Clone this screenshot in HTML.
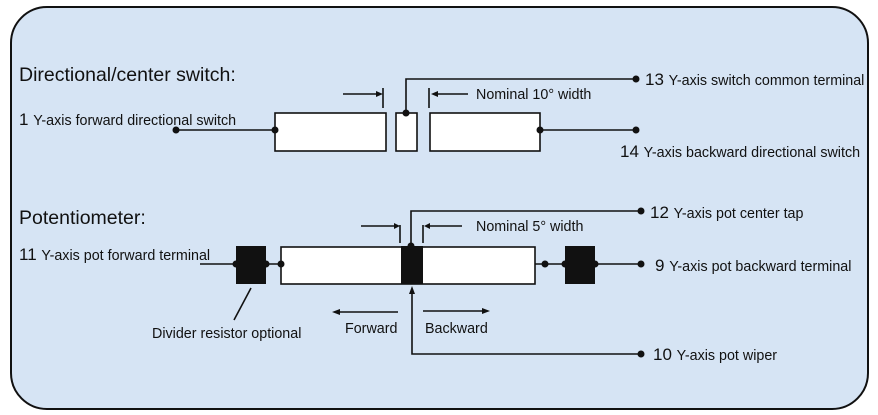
<!DOCTYPE html>
<html><head><style>body{margin:0;background:#fff}svg{display:block}</style></head><body>
<svg width="878" height="415" viewBox="0 0 878 415" xmlns="http://www.w3.org/2000/svg" font-family="Liberation Sans, DejaVu Sans, sans-serif" fill="#111">
<rect x="11" y="7" width="857" height="402" rx="36" fill="#d6e4f4" stroke="#111" stroke-width="2"/>
<g stroke="#111" stroke-width="1.6" fill="none">
<line x1="176" y1="130" x2="275" y2="130"/>
<rect x="275" y="113" width="111" height="38" fill="#fff"/>
<rect x="396" y="113" width="21" height="38" fill="#fff"/>
<rect x="430" y="113" width="110" height="38" fill="#fff"/>
<line x1="540" y1="130" x2="636" y2="130"/>
<polyline points="406,113 406,79 636,79"/>
<line x1="383" y1="88" x2="383" y2="108"/>
<line x1="429" y1="88" x2="429" y2="108"/>
<line x1="343" y1="94" x2="379" y2="94"/>
<line x1="436" y1="94" x2="468" y2="94"/>
<line x1="200" y1="264" x2="281" y2="264"/>
<rect x="281" y="247" width="254" height="37" fill="#fff"/>
<line x1="535" y1="264" x2="641" y2="264"/>
<polyline points="411,247 411,211 641,211"/>
<polyline points="641,354 412,354 412,292"/>
<line x1="400" y1="225" x2="400" y2="243"/>
<line x1="423" y1="225" x2="423" y2="243"/>
<line x1="361" y1="226" x2="396" y2="226"/>
<line x1="430" y1="226" x2="462" y2="226"/>
<line x1="338" y1="312" x2="398" y2="312"/>
<line x1="423" y1="311" x2="484" y2="311"/>
<line x1="251" y1="288" x2="234" y2="320"/>
</g>
<g fill="#111">
<polygon points="383,94 376,91 376,97"/>
<polygon points="431,94 438,91 438,97"/>
<polygon points="400,226 394,223 394,229"/>
<polygon points="424,226 430,223 430,229"/>
<polygon points="332,312 340,309 340,315"/>
<polygon points="490,311 482,308 482,314"/>
<polygon points="412,286 409,294 415,294"/>
<rect x="236" y="246" width="30" height="38"/>
<rect x="565" y="246" width="30" height="38"/>
<rect x="401" y="246" width="22" height="38"/>
<circle cx="176" cy="130" r="3.5"/><circle cx="275" cy="130" r="3.5"/><circle cx="540" cy="130" r="3.5"/><circle cx="636" cy="130" r="3.5"/><circle cx="636" cy="79" r="3.5"/><circle cx="406" cy="113" r="3.5"/>
<circle cx="236" cy="264" r="3.5"/><circle cx="266" cy="264" r="3.5"/><circle cx="281" cy="264" r="3.5"/><circle cx="545" cy="264" r="3.5"/><circle cx="565" cy="264" r="3.5"/><circle cx="595" cy="264" r="3.5"/><circle cx="641" cy="264" r="3.5"/><circle cx="641" cy="211" r="3.5"/><circle cx="641" cy="354" r="3.5"/><circle cx="411" cy="246" r="3.5"/>
</g>
<g font-size="14.3">
<text x="19" y="81" font-size="19.5">Directional/center switch:</text>
<text x="19" y="125"><tspan font-size="17">1 </tspan>Y-axis forward directional switch</text>
<text x="476" y="99">Nominal 10°  width</text>
<text x="645" y="85"><tspan font-size="17">13 </tspan>Y-axis switch common terminal</text>
<text x="620" y="157"><tspan font-size="17">14 </tspan>Y-axis backward directional switch</text>
<text x="19" y="224" font-size="19.5">Potentiometer:</text>
<text x="19" y="260"><tspan font-size="17">11 </tspan> Y-axis pot forward terminal</text>
<text x="476" y="231">Nominal 5° width</text>
<text x="650" y="218"><tspan font-size="17">12 </tspan>Y-axis pot center tap</text>
<text x="655" y="271"><tspan font-size="17">9 </tspan>Y-axis pot backward terminal</text>
<text x="653" y="360"><tspan font-size="17">10 </tspan>Y-axis pot wiper</text>
<text x="152" y="338">Divider resistor optional</text>
<text x="345" y="333">Forward</text>
<text x="425" y="333">Backward</text>
</g>
</svg>
</body></html>
